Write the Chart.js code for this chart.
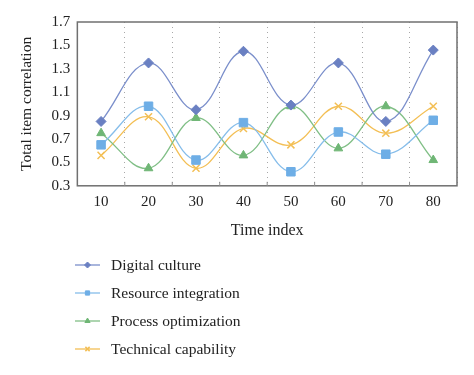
<!DOCTYPE html>
<html>
<head>
<meta charset="utf-8">
<script src="https://cdn.jsdelivr.net/npm/chart.js@4/dist/chart.umd.min.js"></script>
<style>
  html, body { margin: 0; padding: 0; background: #fff; }
  #wrap { width: 474px; height: 375px; position: relative; }
</style>
</head>
<body>
<div id="wrap"><canvas id="c" width="474" height="375"></canvas></div>
<script>
// ---- data ----
const timeIndex = ['10', '20', '30', '40', '50', '60', '70', '80'];
const digitalCulture      = [0.85, 1.35, 0.95, 1.45, 0.99, 1.35, 0.85, 1.46];
const resourceIntegration = [0.65, 0.98, 0.52, 0.84, 0.42, 0.76, 0.57, 0.86];
const processOptimization = [0.75, 0.45, 0.88, 0.56, 0.98, 0.62, 0.98, 0.52];
const technicalCapability = [0.56, 0.89, 0.45, 0.79, 0.65, 0.98, 0.75, 0.98];

const SERIF = '"Liberation Serif", "DejaVu Serif", serif';

function series(label, data, line, fill, style, r) {
  return {
    label, data,
    borderColor: line,
    backgroundColor: fill,
    pointBackgroundColor: fill,
    pointBorderColor: style === 'crossRot' ? line : fill,
    pointStyle: style,
    pointRadius: r,
    pointBorderWidth: style === 'crossRot' ? 1.5 : 1,
    borderWidth: 1.3,
    tension: 0.4,
    fill: false
  };
}

// plot frame + inward tick marks + legend under the chart
const framePlugin = {
  id: 'frame',
  afterDraw(chart) {
    const { ctx, chartArea: a, scales: { x } } = chart;
    ctx.save();
    ctx.strokeStyle = '#707070';
    ctx.lineWidth = 1.5;
    ctx.strokeRect(a.left, a.top, a.right - a.left, a.bottom - a.top);
    ctx.lineWidth = 1;
    ctx.strokeStyle = '#909090';
    for (let i = 0; i < timeIndex.length - 1; i++) {
      const px = (x.getPixelForTick(i) + x.getPixelForTick(i + 1)) / 2;
      ctx.beginPath();
      ctx.moveTo(px, a.bottom);
      ctx.lineTo(px, a.bottom - 4);
      ctx.stroke();
    }

    // legend
    const x0 = 75, x1 = 100, tx = 111;
    chart.data.datasets.forEach((ds, i) => {
      const y = 265 + i * 28;
      ctx.strokeStyle = ds.borderColor;
      ctx.lineWidth = 1.3;
      ctx.beginPath();
      ctx.moveTo(x0, y);
      ctx.lineTo(x1, y);
      ctx.stroke();
      ctx.fillStyle = ds.pointBackgroundColor;
      ctx.strokeStyle = ds.pointBorderColor;
      ctx.lineWidth = ds.pointBorderWidth;
      Chart.helpers.drawPoint(ctx, { pointStyle: ds.pointStyle, radius: 3, borderWidth: ds.pointBorderWidth }, (x0 + x1) / 2, y);
      ctx.fillStyle = '#222';
      ctx.font = '15.5px ' + SERIF;
      ctx.textBaseline = 'middle';
      ctx.textAlign = 'left';
      ctx.fillText(ds.label, tx, y + 1);
    });
    ctx.restore();
  }
};

new Chart(document.getElementById('c'), {
  type: 'line',
  data: {
    labels: timeIndex,
    datasets: [
      series('Digital culture', digitalCulture, '#7b8fcb', '#6a80c2', 'rectRot', 5),
      series('Resource integration', resourceIntegration, '#86bdea', '#6eaee6', 'rect', 6),
      series('Process optimization', processOptimization, '#80bf86', '#6fb675', 'triangle', 5),
      series('Technical capability', technicalCapability, '#f3bf55', '#f1b43c', 'crossRot', 5)
    ]
  },
  options: {
    responsive: false,
    animation: false,
    layout: { padding: { left: 14, right: 17, top: 22, bottom: 131 } },
    plugins: {
      legend: { display: false },
      tooltip: { enabled: false }
    },
    scales: {
      x: {
        offset: true,
        grid: {
          offset: true,
          drawTicks: false,
          color: (c) => (c.index === 0 ? 'rgba(0,0,0,0)' : '#a8a8a8'),
          lineWidth: 1
        },
        border: { display: false, dash: [1, 4] },
        ticks: { color: '#222', font: { family: SERIF, size: 15 }, padding: 7 },
        title: { display: true, text: 'Time index', color: '#222', font: { family: SERIF, size: 16 }, padding: { top: 3 } }
      },
      y: {
        min: 0.3,
        max: 1.7,
        grid: { display: false, drawTicks: false },
        border: { display: false },
        ticks: {
          stepSize: 0.2,
          color: '#222',
          font: { family: SERIF, size: 15 },
          padding: 7,
          callback: (v) => v.toFixed(1)
        },
        title: { display: true, text: 'Total item correlation', color: '#222', font: { family: SERIF, size: 15.5 }, padding: { bottom: 8 } }
      }
    }
  },
  plugins: [framePlugin]
});
</script>
</body>
</html>
